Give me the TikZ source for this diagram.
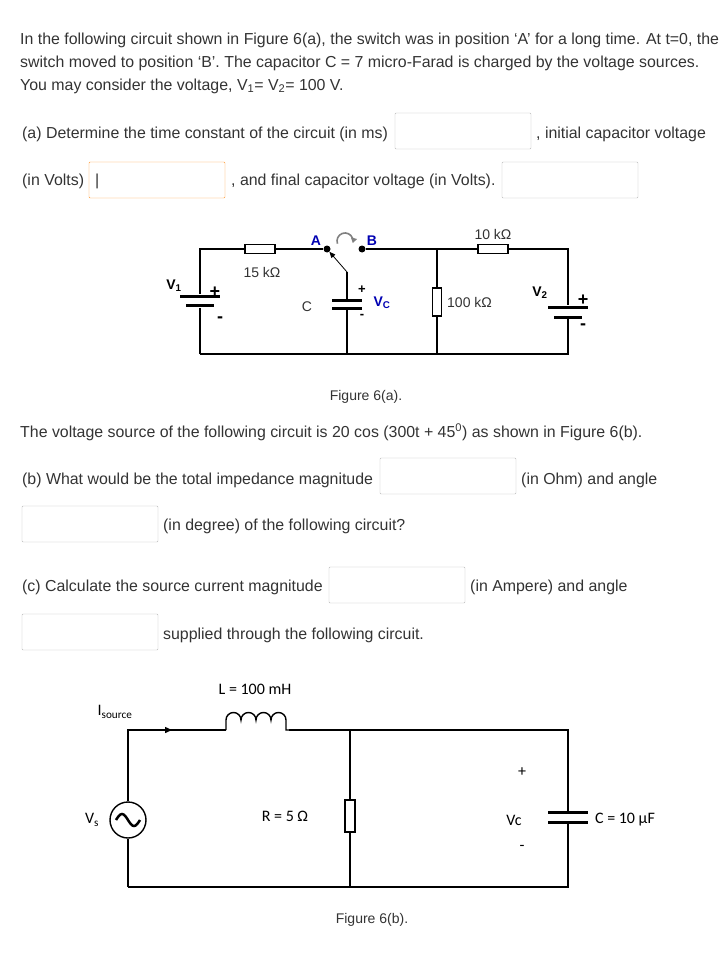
\documentclass[tikz,border=0pt]{standalone}
\usepackage{fontspec}
\setmainfont{Liberation Sans}
\newfontfamily\calib{Carlito}
\usetikzlibrary{arrows.meta,positioning}
\begin{document}
\begin{tikzpicture}[x=1pt,y=-1pt,
        every node/.style={inner sep=0pt, text=black!80},
        txt/.style={anchor=west, font=\fontsize{15.9}{18}\selectfont},
        answer/.style={draw=gray!55, rounded corners=1pt, minimum width=136pt, minimum height=36pt},
        wire/.style={line width=1.6pt},
        res/.style={draw, line width=1.8pt, fill=white},
        lab/.style={font=\fontsize{14}{16}\selectfont},
        blab/.style={text=blue!70!black, font=\bfseries\fontsize{14}{16}\selectfont},
        sgn/.style={text=black, font=\bfseries\fontsize{18}{16}\selectfont},
        clab/.style={font=\calib\fontsize{16}{18}\selectfont, text=black}
    ]
    \useasboundingbox (0,0) rectangle (726,963);

    % Question text
    \node[txt] (l1) at (20,40) {In the following circuit shown in Figure 6(a), the switch was in position ‘A’ for a long time. At t=0, the};
    \node[txt] (l2) at (20,63) {switch moved to position ‘B’. The capacitor C = 7 micro-Farad is charged by the voltage sources.};
    \node[txt] (l3) at (20,86) {You may consider the voltage, V\textsubscript{1}= V\textsubscript{2}= 100 V.};
    \node[txt] (qa) at (22,134) {(a) Determine the time constant of the circuit (in ms)};
    \node[answer] (ba1) at (463,131) {};
    \node[txt] (qa2) at (536,134) {, initial capacitor voltage};
    \node[txt] (qa3) at (22,181) {(in Volts)};
    \node[answer, draw=orange!80] (ba2) at (157,180) {};
    \node[txt] (cur) at (95,181) {|};
    \node[txt] (qa4) at (231,181) {, and final capacitor voltage (in Volts).};
    \node[answer] (ba3) at (570,180) {};

    % Circuit 6(a)
    \coordinate (tl) at (200,249);
    \coordinate (bl) at (200,354);
    \coordinate (tm) at (437,249);
    \coordinate (tr) at (568,249);
    \coordinate (br) at (568,354);
    \coordinate (piv) at (347,272);
    \node[circle, fill=black, minimum size=7pt] (swA) at (327,249) {};
    \node[circle, fill=black, minimum size=7pt] (swB) at (362,249) {};
    \draw[wire] (bl) -- (tl) -- (swA);
    \draw[wire] (swB) -- (tr) -- (br) -- (bl);
    \draw[wire] (tm) -- (437,354);
    \draw[wire] (piv) -- (347,354);
    \draw[thick, -{Triangle[length=6pt,width=5pt]}] (piv) -- (swA);
    \draw[gray, line width=1.6pt, -{Triangle[length=5pt,width=6pt]}] (337.5,243.7) arc[start angle=160, end angle=375, radius=8];
    \node[res, minimum width=30pt, minimum height=9pt] (r15) at (260,249) {};
    \node[res, minimum width=30pt, minimum height=9pt] (r10) at (493,249) {};
    \node[res, minimum width=9pt, minimum height=28pt] (r100) at (437,302) {};
    % capacitor
    \fill[white] (330,299) rectangle (364,309);
    \draw[line width=3pt] (332,300) -- (362,300) (332,308) -- (362,308);
    % batteries
    \fill[white] (178,294) rectangle (222,308);
    \draw[line width=3pt] (180,296) -- (220,296) (186,305) -- (214,305);
    \fill[white] (546,305) rectangle (590,319);
    \draw[line width=3pt] (548,307) -- (588,307) (554,317) -- (582,317);
    \node[blab] (lA) at (316,241) {A};
    \node[blab] (lB) at (372,241) {B};
    \node[lab] (l15) at (262,272) {15 kΩ};
    \node[lab] (l10) at (493,234) {10 kΩ};
    \node[lab, anchor=west] (l100) at (447,302) {100 kΩ};
    \node[lab] (lC) at (307,307) {C};
    \node[blab] (lVc) at (382,303) {V\textsubscript{C}};
    \node[sgn, font=\bfseries\fontsize{13}{14}\selectfont] at (362,290) {+};
    \node[sgn, font=\bfseries\fontsize{13}{14}\selectfont] at (362,316) {-};
    \node[blab, text=black] (lV1) at (174,286) {V\textsubscript{1}};
    \node[sgn] at (215,292) {+};
    \node[sgn] at (220,320) {-};
    \node[blab, text=black] (lV2) at (540,293) {V\textsubscript{2}};
    \node[sgn] at (583,300) {+};
    \node[sgn] at (583,327) {-};
    \node[lab] (fa) at (366,397) {Figure 6(a).};

    % Parts (b) and (c)
    \node[txt] (l4) at (20,432) {The voltage source of the following circuit is 20 cos (300t + 45\textsuperscript{0}) as shown in Figure 6(b).};
    \node[txt] (qb) at (22,480) {(b) What would be the total impedance magnitude};
    \node[answer] (bb1) at (448,476) {};
    \node[txt] (qb2) at (521,480) {(in Ohm) and angle};
    \node[answer] (bb2) at (90,524) {};
    \node[txt] (qb3) at (163,526) {(in degree) of the following circuit?};
    \node[txt] (qc) at (22,587) {(c) Calculate the source current magnitude};
    \node[answer] (bc1) at (397,585) {};
    \node[txt] (qc2) at (470,587) {(in Ampere) and angle};
    \node[answer] (bc2) at (90,632) {};
    \node[txt] (qc3) at (163,635) {supplied through the following circuit.};

    % Circuit 6(b)
    \coordinate (btl) at (128,730);
    \coordinate (bbl) at (128,887);
    \coordinate (btm) at (350,730);
    \coordinate (btr) at (568,730);
    \coordinate (bbr) at (568,887);
    \coordinate (lin) at (226,730);
    \coordinate (lout) at (289,730);
    \node[circle, draw, line width=1.4pt, fill=white, minimum size=36pt] (src) at (128,820) {};
    \draw[line width=1.4pt] (bbl) -- (src.south) (src.north) -- (btl) -- (lin);
    \draw[line width=1.4pt] (lout) -- (btr) -- (bbr) -- (bbl);
    \draw[line width=1.4pt] (btm) -- (350,887);
    \draw[line width=1.4pt, -{Triangle[length=7pt,width=6pt]}] (btl) -- (172,730);
    \draw[line width=1.4pt] (lin) -- (226,720)
        \foreach \k in {0,1,2,3} { arc[start angle=180, end angle=360, radius=7.5] }
        -- (286,730) -- (lout);
    \draw[line width=2.5pt] (116,820) sin (122,814) cos (128,820) sin (134,826) cos (140,820);
    \node[res, minimum width=10pt, minimum height=32pt] (r5) at (350,816) {};
    \fill[white] (546,812) rectangle (590,822);
    \draw[line width=3pt] (548,812) -- (588,812) (548,822) -- (588,822);
    \node[clab] (lL) at (255,689) {L = 100 mH};
    \node[clab] (lI) at (115,712) {I\textsubscript{source}};
    \node[clab] (lVs) at (92,820) {V\textsubscript{s}};
    \node[clab] (lR) at (285,816) {R = 5 Ω};
    \node[clab] (lVc2) at (514,820) {Vc};
    \node[clab] at (522,772) {+};
    \node[clab] at (522,848) {-};
    \node[clab] (lCb) at (625,820) {C = 10 μF};
    \node[lab] (fb) at (372,920) {Figure 6(b).};
\end{tikzpicture}
\end{document}
